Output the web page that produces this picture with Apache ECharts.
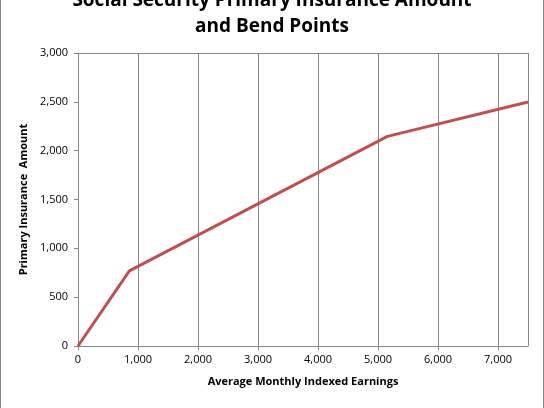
<!DOCTYPE html><html><head><meta charset="utf-8"><script src="https://cdn.jsdelivr.net/npm/echarts@6/dist/echarts.min.js"></script>
<style>html,body{margin:0;padding:0;background:#fff}#c{width:544px;height:408px;box-sizing:border-box;border-left:1px solid #888;border-right:1px solid #888}</style></head><body><div id="c"></div><script>
const earnings=[0,856,5157,7500];
const pia=[0,770,2146,2498];
const titleLines=["Social Security Primary Insurance Amount","and Bend Points"];
const chart=echarts.init(document.getElementById('c'));
const F='"Open Sans", sans-serif';
chart.setOption({
animation:false,
title:{text:titleLines.join('\n'),left:'center',top:-17,textStyle:{fontFamily:F,fontSize:19,fontWeight:'bold',color:'#000',lineHeight:26}},
grid:{left:77,right:15,top:53,bottom:62},
xAxis:[{type:'value',min:0,max:7500,interval:1000,name:'Average Monthly Indexed Earnings',nameLocation:'middle',nameGap:30,
nameTextStyle:{fontFamily:F,fontSize:11,fontWeight:'bold',color:'#000'},
axisLine:{lineStyle:{color:'#888'}},axisTick:{show:true,length:4,lineStyle:{color:'#888'}},
axisLabel:{fontFamily:F,fontSize:11,color:'#000',showMaxLabel:false,formatter:v=>v.toLocaleString('en-US')},
splitLine:{show:true,lineStyle:{color:'#888'}}},
{type:'value',position:'top',min:0,max:7500,axisLine:{show:true,lineStyle:{color:'#888'}},axisTick:{show:false},axisLabel:{show:false},splitLine:{show:false}}],
yAxis:{type:'value',min:0,max:3000,interval:500,name:'Primary Insurance  Amount',nameLocation:'middle',nameGap:48,
nameTextStyle:{fontFamily:F,fontSize:11,fontWeight:'bold',color:'#000'},
axisLine:{show:true,lineStyle:{color:'#888'}},axisTick:{show:true,length:4,lineStyle:{color:'#888'}},
axisLabel:{fontFamily:F,fontSize:11,color:'#000',margin:10,formatter:v=>v.toLocaleString('en-US')},
splitLine:{show:false}
},
series:[{type:'line',xAxisIndex:0,data:earnings.map((x,i)=>[x,pia[i]]),symbol:'none',lineStyle:{color:'#C0504D',width:3}}]
});
</script></body></html>
